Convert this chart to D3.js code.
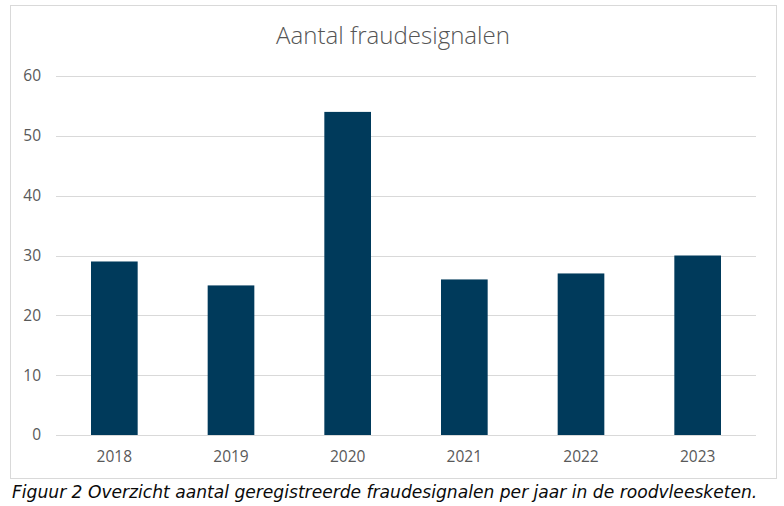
<!DOCTYPE html>
<html><head><meta charset="utf-8">
<script src="https://cdn.jsdelivr.net/npm/d3@7/dist/d3.min.js"></script>
<style>html,body{margin:0;padding:0;background:#fff;}</style>
</head><body>
<svg id="c" width="784" height="506"></svg>
<script>
const categories = ["2018","2019","2020","2021","2022","2023"];
const values = [29, 25, 54, 26, 27, 30];
const yTicks = [0,10,20,30,40,50,60];
const titleText = "Aantal fraudesignalen";
const captionText = "Figuur 2 Overzicht aantal geregistreerde fraudesignalen per jaar in de roodvleesketen.";

const svg = d3.select("#c");
const textColor = "#595959";

// chart frame
svg.append("rect").attr("x",10.5).attr("y",5.5).attr("width",766).attr("height",473)
  .attr("fill","#fff").attr("stroke","#d9d9d9").attr("stroke-width",1);

const x = d3.scaleBand().domain(categories).range([56,756]).paddingInner(0.6).paddingOuter(0.3);
const y = d3.scaleLinear().domain([0,60]).range([435,76]);

// gridlines
svg.append("g").selectAll("line").data(yTicks).join("line")
  .attr("x1",56).attr("x2",756)
  .attr("y1",d=>Math.round(y(d))+0.5).attr("y2",d=>Math.round(y(d))+0.5)
  .attr("stroke","#d9d9d9").attr("stroke-width",1);

// bars
svg.append("g").selectAll("rect").data(values).join("rect")
  .attr("x",(d,i)=>x(categories[i])).attr("width",x.bandwidth())
  .attr("y",d=>y(d)).attr("height",d=>y(0)-y(d))
  .attr("fill","#003a5b");

const tickFont = "'Open Sans', sans-serif";
const tickSize = "15.5px";

// y axis labels
const yAxis = d3.axisLeft(y).tickValues(yTicks).tickSize(0).tickPadding(0);
const gy = svg.append("g").attr("transform","translate(41,0)").call(yAxis);
gy.select(".domain").remove();
gy.selectAll("text").attr("fill",textColor).style("font-family",tickFont).style("font-size",tickSize);

// x axis labels
const xAxis = d3.axisBottom(x).tickSize(0).tickPadding(0);
const gx = svg.append("g").attr("transform","translate(0,451)").call(xAxis);
gx.select(".domain").remove();
gx.selectAll("text").attr("fill",textColor).style("font-family",tickFont).style("font-size",tickSize);

// title
const t = svg.append("text").attr("x",393).attr("y",44).attr("text-anchor","middle")
  .attr("fill","#555").style("font-family","'Open Sans', sans-serif").style("font-weight","300")
  .style("font-size","21px").text(titleText);
let w = t.node().getComputedTextLength();
t.style("font-size",(21*234/w).toFixed(2)+"px");

// caption
const c = svg.append("text").attr("x",12).attr("y",498)
  .attr("fill","#0a0a0a").style("font-family","'DejaVu Sans', Verdana, sans-serif").style("font-style","italic")
  .style("font-size","14px").text(captionText);
let wc = c.node().getComputedTextLength();
c.style("font-size",(14*746/wc).toFixed(2)+"px");
</script>
</body></html>
